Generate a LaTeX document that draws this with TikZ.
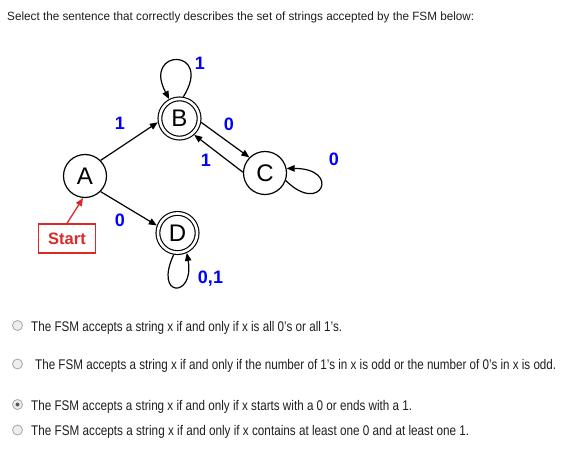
\documentclass[tikz,border=0pt]{standalone}
\usepackage{fontspec}
\setmainfont{Liberation Sans}
\usepackage{graphicx}
\usetikzlibrary{arrows.meta}
\definecolor{lblblue}{RGB}{0,0,255}
\definecolor{startred}{RGB}{222,40,40}
\definecolor{txt}{RGB}{30,30,30}
\definecolor{radioborder}{RGB}{165,165,165}
\definecolor{radiofill}{RGB}{238,238,238}
\definecolor{radiodot}{RGB}{90,90,90}
\begin{document}
\begin{tikzpicture}[x=1pt,y=1pt,
  state/.style={circle, draw, line width=1.2pt, minimum size=43pt, inner sep=0pt,
    font=\fontsize{24}{24}\selectfont},
  accept/.style={circle, draw, double, double distance=2.6pt, line width=1.15pt,
    minimum size=39.2pt, inner sep=0pt, outer sep=2.4pt, font=\fontsize{24}{24}\selectfont},
  edge/.style={line width=1.2pt, -{Triangle[length=8pt,width=6.5pt]}},
  lbl/.style={text=lblblue, inner sep=0pt, font=\fontsize{18}{18}\selectfont\bfseries},
  startbox/.style={draw=startred, line width=1.4pt, minimum width=57pt, minimum height=29pt,
    inner sep=0pt, text=startred, font=\fontsize{16.5}{17}\selectfont\bfseries},
  startedge/.style={draw=startred, line width=1.3pt, -{Triangle[length=8pt,width=6.5pt]}},
  radio/.style={circle, draw=radioborder, fill=radiofill, line width=0.8pt, minimum size=10pt, inner sep=0pt},
  radiodotstyle/.style={circle, fill=radiodot, minimum size=4pt, inner sep=0pt},
  qtext/.style={anchor=base west, inner sep=0pt, text=txt, font=\fontsize{14}{16}\selectfont},
]
\useasboundingbox (0,0) rectangle (573,-454);

% title
\node[anchor=base west, inner sep=0pt, text=txt, font=\fontsize{12}{14}\selectfont] (title) at (7,-20.7)
  {\resizebox{467pt}{\height}{Select the sentence that correctly describes the set of strings accepted by the FSM below:}};

% states
\node[state] (A) at (85,-176) {A};
\node[accept] (B) at (179.5,-118.5) {B};
\node[state] (C) at (265,-173) {C};
\node[accept] (D) at (177.5,-233) {D};
\node[startbox] (start) at (67,-238.5) {Start};

% transitions
\draw[edge] (A.45) -- (B.190);
\draw[edge] (A.-45) -- (D.160);
\draw[edge] (B.-10) -- (C.135);
\draw[edge] (C.178) -- (B.-48);
\draw[edge] (B.80) .. controls +(58:58) and +(118:58) .. (B.118);
\draw[edge] (C.-20) .. controls +(-45:50) and +(0:55) .. (C.12);
\draw[edge] (D.-100) .. controls +(-115:48) and +(-80:46) .. (D.-65);
\draw[startedge] (start.north) -- (A.-95);

% labels
\node[lbl] (lAB) at (120,-123.5) {1};
\node[lbl] (lBB) at (200,-63.5) {1};
\node[lbl] (lBC) at (229,-124.5) {0};
\node[lbl] (lCB) at (206,-160) {1};
\node[lbl] (lCC) at (334,-159.5) {0};
\node[lbl] (lAD) at (120,-220) {0};
\node[lbl] (lDD) at (210.5,-278.5) {0,1};

% answer choices
\node[radio] (r1) at (17.5,-325.5) {};
\node[radio] (r2) at (17.5,-364) {};
\node[radio] (r3) at (17.5,-404.5) {};
\node[radiodotstyle] (r3dot) at (r3) {};
\node[radio] (r4) at (17.5,-430) {};

\node[qtext] (o1) at (31,-331) {\resizebox{311pt}{\height}{The FSM accepts a string x if and only if x is all 0's or all 1's.}};
\node[qtext] (o2) at (35,-369.5) {\resizebox{521pt}{\height}{The FSM accepts a string x if and only if the number of 1's in x is odd or the number of 0's in x is odd.}};
\node[qtext] (o3) at (31,-410) {\resizebox{381pt}{\height}{The FSM accepts a string x if and only if x starts with a 0 or ends with a 1.}};
\node[qtext] (o4) at (31,-435.5) {\resizebox{438pt}{\height}{The FSM accepts a string x if and only if x contains at least one 0 and at least one 1.}};
\end{tikzpicture}
\end{document}
